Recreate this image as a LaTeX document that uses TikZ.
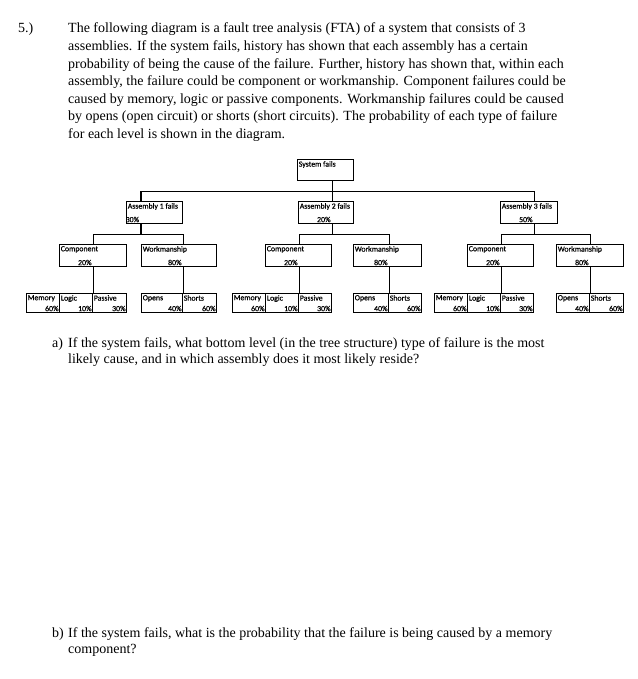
\documentclass[tikz,border=0pt]{standalone}
\usepackage{fontspec}
\setmainfont{Liberation Serif}
\newfontfamily\cellfont[FakeBold=0.6]{Carlito}
\begin{document}
\begin{tikzpicture}[x=1pt,y=-1pt,
  box/.style={draw,line width=1.4pt,inner sep=0pt,anchor=north west},
  link/.style={line width=1.4pt},
  lbl/.style={font=\cellfont\fontsize{7.8}{8}\selectfont,inner xsep=1.6pt,inner ysep=2pt},
  para/.style={font=\fontsize{14}{17.6}\selectfont,align=left,inner sep=0pt,anchor=base west},
  quest/.style={para,font=\fontsize{14}{16}\selectfont}]
  \useasboundingbox (0,0) rectangle (637,679);

  % question text
  \node[para] (num) at (18,33) {5.)};
  \node[para] (intro) at (68,138.6) {The following diagram is a fault tree analysis (FTA) of a system that consists of 3\\
    assemblies.  If the system fails, history has shown that each assembly has a certain\\
    probability of being the cause of the failure.  Further, history has shown that, within each\\
    assembly, the failure could be component or workmanship.  Component failures could be\\
    caused by memory, logic or passive components.  Workmanship failures could be caused\\
    by opens (open circuit) or shorts (short circuits).  The probability of each type of failure\\
    for each level is shown in the diagram.};

  % bottom level: memory / logic / passive
  \foreach \g/\xa/\xb/\xc/\xd in {1/26/59/92/126, 2/232/265/298/331, 3/434/467/500/533} {
    \node[box,minimum width=\xb-\xa,minimum height=19] (mem\g) at (\xa,293) {};
    \node[box,minimum width=\xc-\xb,minimum height=19] (log\g) at (\xb,293) {};
    \node[box,minimum width=\xd-\xc,minimum height=19] (pas\g) at (\xc,293) {};
    \node[lbl,anchor=north west] at (mem\g.north west) {Memory};
    \node[lbl,anchor=south east] at (mem\g.south east) {60\%};
    \node[lbl,anchor=north west] at (log\g.north west) {Logic};
    \node[lbl,anchor=south east] at (log\g.south east) {10\%};
    \node[lbl,anchor=north west] at (pas\g.north west) {Passive};
    \node[lbl,anchor=south east] at (pas\g.south east) {30\%};
    % component box
    \node[box,minimum width=\xd-\xb,minimum height=22] (cmp\g) at (\xb,244) {};
    \node[lbl,anchor=north west] at (cmp\g.north west) {Component};
    \node[lbl,anchor=south east] at (cmp\g.south -| log\g.east) {20\%};
  }

  % bottom level: opens / shorts
  \foreach \g/\xa/\xb/\xc in {1/141/182/216, 2/353/388/421, 3/556/589/623} {
    \node[box,minimum width=\xb-\xa,minimum height=19] (opn\g) at (\xa,293) {};
    \node[box,minimum width=\xc-\xb,minimum height=19] (sho\g) at (\xb,293) {};
    \node[lbl,anchor=north west] at (opn\g.north west) {Opens};
    \node[lbl,anchor=south east] at (opn\g.south east) {40\%};
    \node[lbl,anchor=north west] at (sho\g.north west) {Shorts};
    \node[lbl,anchor=south east] at (sho\g.south east) {60\%};
    % workmanship box
    \node[box,minimum width=\xc-\xa,minimum height=22] (wrk\g) at (\xa,244) {};
    \node[lbl,anchor=north west] at (wrk\g.north west) {Workmanship};
    \node[lbl,anchor=south east] at (wrk\g.south -| opn\g.east) {80\%};
  }

  % assemblies and system
  \node[box,minimum width=56,minimum height=21] (sys) at (297,159) {};
  \node[lbl,anchor=north west] at (sys.north west) {System fails};
  \node[box,minimum width=56,minimum height=22] (asm1) at (126,201) {};
  \node[box,minimum width=55,minimum height=22] (asm2) at (298,201) {};
  \node[box,minimum width=57,minimum height=22] (asm3) at (500,201) {};
  \foreach \g/\t/\p in {1/opn1.west/30, 2/pas2.east/20, 3/pas3.east/50} {
    \node[lbl,anchor=north west] at (asm\g.north west) {Assembly \g\ fails};
    \node[lbl,anchor=south east] at (asm\g.south -| \t) {\p\%};
  }

  % connectors
  \draw[link] (sys.south -| pas2.east) -- ++(0,10) coordinate (bus0);
  \draw[link] (asm1.north -| opn1.west) |- (bus0) -| (asm3.north -| pas3.east);
  \draw[link] (asm2.north -| bus0) -- (bus0);
  \foreach \g/\t in {1/opn1.west, 2/pas2.east, 3/pas3.east} {
    \draw[link] (asm\g.south -| \t) -- ++(0,10) coordinate (bus\g);
    \draw[link] (cmp\g.north -| log\g.east) |- (bus\g) -| (wrk\g.north -| opn\g.east);
    \draw[link] (cmp\g.south -| log\g.east) -- (log\g.north east);
    \draw[link] (wrk\g.south -| opn\g.east) -- (opn\g.north east);
  }

  % questions
  \node[quest] (qa) at (52,347) {a)};
  \node[quest] (qatext) at (68,363) {If the system fails, what bottom level (in the tree structure) type of failure is the most\\
    likely cause, and in which assembly does it most likely reside?};
  \node[quest] (qb) at (52,637) {b)};
  \node[quest] (qbtext) at (68,653) {If the system fails, what is the probability that the failure is being caused by a memory\\
    component?};
\end{tikzpicture}
\end{document}
